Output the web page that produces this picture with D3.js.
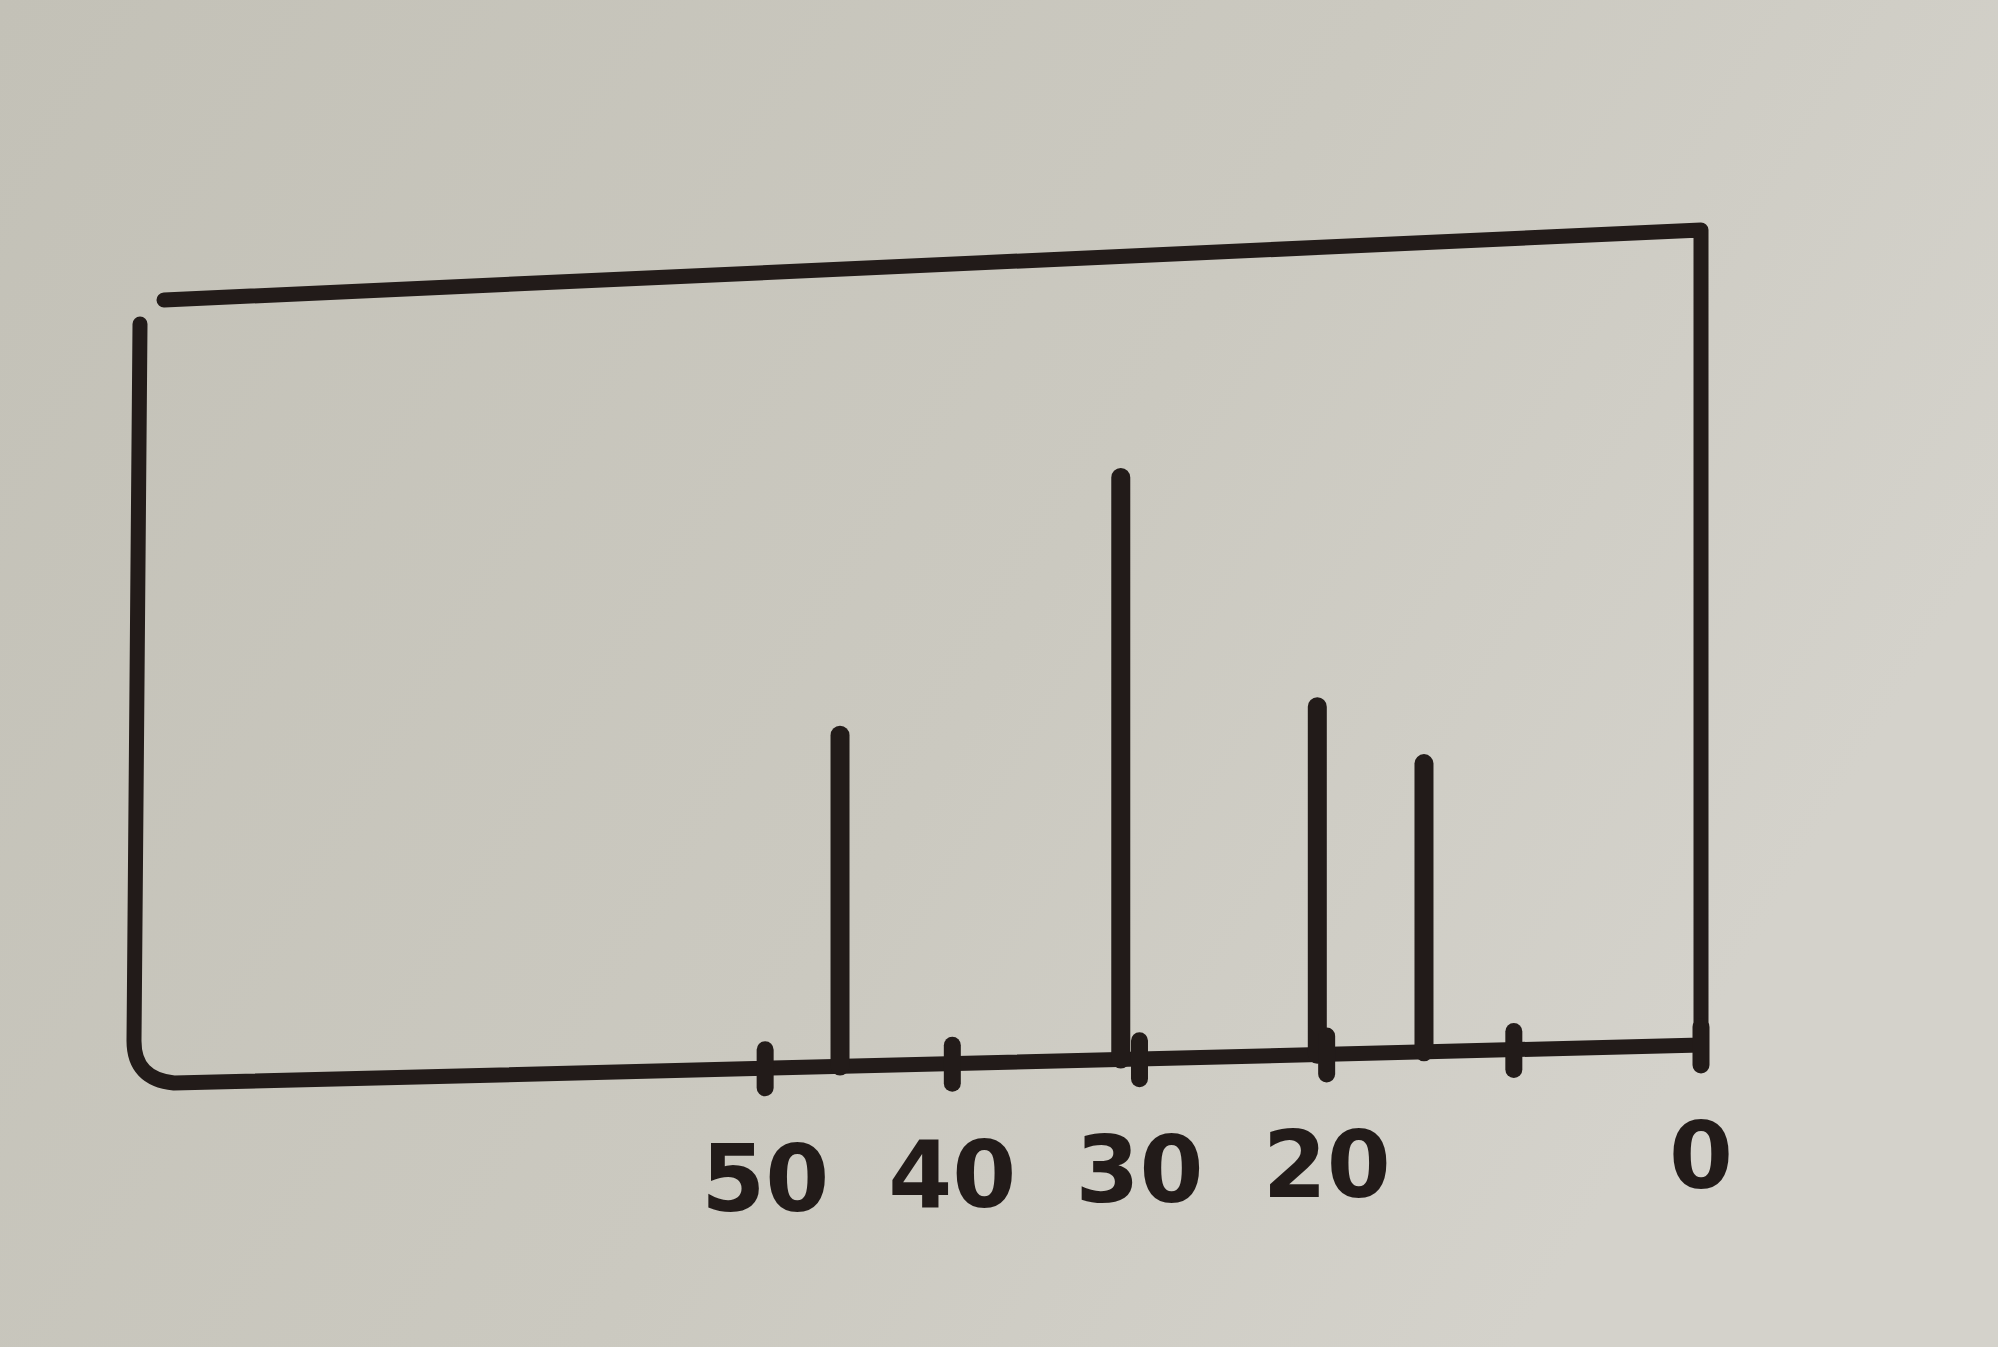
<!DOCTYPE html>
<html>
<head>
<meta charset="utf-8">
<script src="https://cdn.jsdelivr.net/npm/d3@7"></script>
<style>
  html, body { margin: 0; padding: 0; background: #c9c7be; }
  svg { display: block; }
</style>
</head>
<body>
<svg id="chart" width="1998" height="1347"></svg>
<script>
// ---- data ----
const peakPositions = [46, 31, 20.5, 14.8];
const peakHeights   = [41.8, 73.5, 45.3, 38.3];
const tickValues    = [50, 40, 30, 20, 10, 0];
const tickLabels    = ["50", "40", "30", "20", "", "0"];

// ---- layout ----
const W = 1998, H = 1347;
const margin = { left: 140, right: 297, top: 262, bottom: 272 };
const innerW = W - margin.left - margin.right;
const innerH = H - margin.top - margin.bottom;
const ink = "#221b19";

const svg = d3.select("#chart");

// paper background
const defs = svg.append("defs");
const grad = defs.append("linearGradient").attr("id", "paper")
  .attr("x1", "0").attr("y1", "0").attr("x2", "1").attr("y2", "0.4");
grad.append("stop").attr("offset", "0").attr("stop-color", "#c3c1b7");
grad.append("stop").attr("offset", "0.6").attr("stop-color", "#cbc9c0");
grad.append("stop").attr("offset", "1").attr("stop-color", "#d4d2cb");
svg.append("rect").attr("width", W).attr("height", H).attr("fill", "url(#paper)");

const g = svg.append("g").attr("transform", `translate(${margin.left},${margin.top})`);

// scales (x reversed: 50 toward the middle, 0 at the right edge)
const xMax = 83.4;
const x = d3.scaleLinear().domain([xMax, 0]).range([0, innerW]);
const y = d3.scaleLinear().domain([0, 100]).range([innerH, 0]);

// frame (open top-left corner, rounded bottom-left)
const r = 34;
const frame = d3.path();
frame.moveTo(x(xMax) + 24, y(100) + 38);
frame.lineTo(x(0), y(100) - 32);
frame.lineTo(x(0), y(0) - 30);
frame.lineTo(x(xMax) + r, y(0) + 8);
frame.quadraticCurveTo(x(xMax) - 6, y(0) + 4, x(xMax) - 6, y(0) - r);
frame.lineTo(x(xMax), y(100) + 62);
g.append("path").attr("d", frame.toString())
  .attr("fill", "none").attr("stroke", ink)
  .attr("stroke-width", 15).attr("stroke-linecap", "round").attr("stroke-linejoin", "round");

// baseline slope helper (hand-drawn axis rises slightly to the right)
const base = v => y(0) + 8 - 38 * (1 - v / xMax);

// peaks
g.selectAll("line.peak").data(peakPositions).join("line")
  .attr("class", "peak")
  .attr("x1", d => x(d)).attr("x2", d => x(d))
  .attr("y1", d => base(d)).attr("y2", (d, i) => y(peakHeights[i]))
  .attr("stroke", ink).attr("stroke-width", 19).attr("stroke-linecap", "round");

// x axis
const axis = d3.axisBottom(x).tickValues(tickValues)
  .tickFormat((d, i) => tickLabels[i]).tickSize(18).tickPadding(60);
const ax = g.append("g").attr("transform", `translate(0,${innerH})`).call(axis);
ax.select(".domain").remove();
ax.selectAll(".tick")
  .attr("transform", d => `translate(${x(d)},${base(d) - y(0)})`);
ax.selectAll(".tick line")
  .attr("y1", -18).attr("y2", 20)
  .attr("stroke", ink).attr("stroke-width", 17).attr("stroke-linecap", "round");
ax.selectAll(".tick text")
  .attr("fill", ink)
  .style("font-family", "'DejaVu Sans', sans-serif")
  .style("font-weight", "bold")
  .style("font-size", "92px");
</script>
</body>
</html>
